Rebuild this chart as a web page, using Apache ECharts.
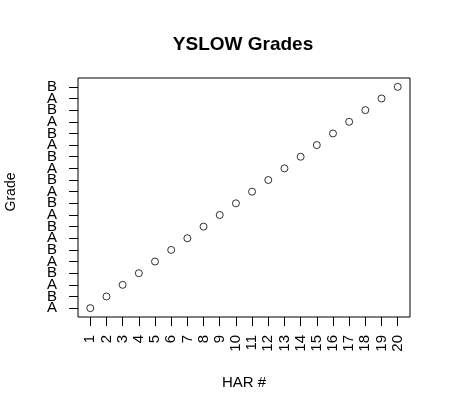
<!DOCTYPE html>
<html>
<head>
<meta charset="utf-8">
<script src="https://cdn.jsdelivr.net/npm/echarts@6/dist/echarts.min.js"></script>
<style>html,body{margin:0;padding:0;background:#fff}#c{width:450px;height:415px}</style>
</head>
<body>
<div id="c"></div>
<script>
var harNumbers = [1,2,3,4,5,6,7,8,9,10,11,12,13,14,15,16,17,18,19,20];
var gradeIndex = [1,2,3,4,5,6,7,8,9,10,11,12,13,14,15,16,17,18,19,20];
var gradeLabels = ['A','B','A','B','A','B','A','B','A','B','A','B','A','B','A','B','A','B','A','B'];
var tickValues = [1,2,3,4,5,6,7,8,9,10,11,12,13,14,15,16,17,18,19,20];
var oddTicks = tickValues.filter(function (v) { return v % 2 === 1; });
var evenTicks = tickValues.filter(function (v) { return v % 2 === 0; });

var font = 'Liberation Sans, Arial, sans-serif';

function gradeAxis(values) {
  return {
    type: 'value', min: 0.24, max: 20.76, position: 'left', offset: 0,
    axisLine: {show: false},
    splitLine: {show: false},
    axisTick: {show: true, length: 9, inside: false, customValues: values, lineStyle: {color: '#000', width: 1}},
    axisLabel: {
      customValues: values, margin: 21, showMinLabel: true, showMaxLabel: true, hideOverlap: false,
      fontFamily: font, fontSize: 15, color: '#000',
      formatter: function (v) { return gradeLabels[v - 1]; }
    }
  };
}

var chart = echarts.init(document.getElementById('c'), null, {renderer: 'canvas'});
chart.setOption({
  animation: false,
  backgroundColor: '#ffffff',
  title: {
    text: 'YSLOW Grades',
    left: 238,
    top: 30,
    textAlign: 'center',
    textStyle: {fontFamily: font, fontSize: 19, fontWeight: 'bold', color: '#000'}
  },
  graphic: [{
    type: 'text',
    x: 11, y: 192, rotation: Math.PI / 2,
    style: {text: 'Grade', fill: '#000', font: '14px ' + font, align: 'center', verticalAlign: 'middle'}
  }],
  grid: {
    left: 78, top: 78, right: 40, bottom: 98,
    show: true, borderColor: '#000', borderWidth: 1, backgroundColor: 'transparent'
  },
  xAxis: {
    type: 'value', min: 0.24, max: 20.76,
    name: 'HAR #', nameLocation: 'middle', nameGap: 66,
    nameTextStyle: {fontFamily: font, fontSize: 15, color: '#000', align: 'center', verticalAlign: 'middle'},
    axisLine: {show: false},
    splitLine: {show: false},
    axisTick: {show: true, length: 9, inside: false, customValues: tickValues, lineStyle: {color: '#000', width: 1}},
    axisLabel: {
      customValues: tickValues, rotate: 90, margin: 18, showMinLabel: true, showMaxLabel: true, hideOverlap: false,
      fontFamily: font, fontSize: 15, color: '#000',
      formatter: function (v) { return String(harNumbers[v - 1]); }
    }
  },
  yAxis: [gradeAxis(oddTicks), gradeAxis(evenTicks)],
  series: [{
    type: 'scatter',
    yAxisIndex: 0,
    data: harNumbers.map(function (h, i) { return [h, gradeIndex[i]]; }),
    symbol: 'circle',
    symbolSize: 7,
    itemStyle: {color: 'rgba(0,0,0,0)', borderColor: '#000', borderWidth: 1}
  }]
});
</script>
</body>
</html>
